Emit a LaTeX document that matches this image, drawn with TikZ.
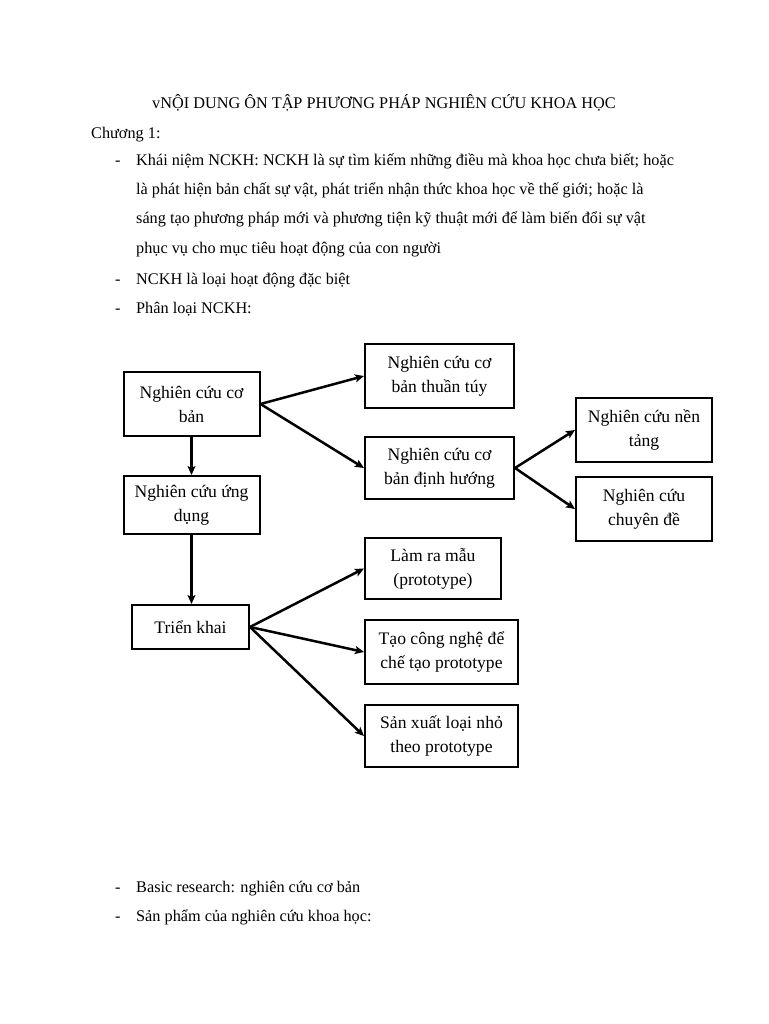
\documentclass[tikz,border=0pt]{standalone}
\usepackage{fontspec}
\setmainfont{Liberation Serif}
\usetikzlibrary{arrows.meta}
\begin{document}
\begin{tikzpicture}[x=1pt,y=-1pt,
  every node/.style={font=\fontsize{16.25}{24}\selectfont},
  box/.style={draw,line width=2pt,align=center,inner sep=0pt,font=\fontsize{17.6}{24}\selectfont},
  txt/.style={anchor=base west,inner sep=0pt},
  arr/.style={line width=2.5pt,-{Stealth[length=9pt,width=8pt,inset=2pt]}}]
\useasboundingbox[fill=white] (0,0) rectangle (768,1024);
% text
\node[anchor=base,inner sep=0pt] (title) at (384,109) {vNỘI DUNG ÔN TẬP PHƯƠNG PHÁP NGHIÊN CỨU KHOA HỌC};
\node[txt] (ch) at (91,139) {Chương 1:};
\foreach \y/\n in {166/d1,284/d2,313/d3,892/d4,921/d5}{
  \node[txt] (\n) at (115,\y) {-};}
\node[txt] (l1) at (136,166) {Khái niệm NCKH: NCKH là sự tìm kiếm những điều mà khoa học chưa biết; hoặc};
\node[txt] (l2) at (136,195) {là phát hiện bản chất sự vật, phát triển nhận thức khoa học về thế giới; hoặc là};
\node[txt] (l3) at (136,224) {sáng tạo phương pháp mới và phương tiện kỹ thuật mới để làm biến đổi sự vật};
\node[txt] (l4) at (136,253) {phục vụ cho mục tiêu hoạt động của con người};
\node[txt] (l5) at (136,284) {NCKH là loại hoạt động đặc biệt};
\node[txt] (l6) at (136,313) {Phân loại NCKH:};
\node[txt] (l7) at (136,892) {Basic research: nghiên cứu cơ bản};
\node[txt] (l8) at (136,921) {Sản phẩm của nghiên cứu khoa học:};
% boxes
\node[box,minimum width=136pt,minimum height=64pt] (A) at (191.5,404) {Nghiên cứu cơ\\bản};
\node[box,minimum width=149pt,minimum height=64pt] (B) at (439.5,376) {Nghiên cứu cơ\\bản thuần túy};
\node[box,minimum width=149pt,minimum height=62pt] (C) at (439.5,468) {Nghiên cứu cơ\\bản định hướng};
\node[box,minimum width=136pt,minimum height=58pt] (D) at (191.5,505) {Nghiên cứu ứng\\dụng};
\node[box,minimum width=136pt,minimum height=64pt] (E) at (644,430) {Nghiên cứu nền\\tảng};
\node[box,minimum width=136pt,minimum height=64pt] (F) at (644,509) {Nghiên cứu\\chuyên đề};
\node[box,minimum width=117pt,minimum height=44pt] (G) at (190.5,627) {Triển khai};
\node[box,minimum width=136pt,minimum height=61pt] (H) at (433,568.5) {Làm ra mẫu\\(prototype)};
\node[box,minimum width=153pt,minimum height=64pt] (I) at (441.5,652) {Tạo công nghệ để\\chế tạo prototype};
\node[box,minimum width=153pt,minimum height=62pt] (J) at (441.5,736) {Sản xuất loại nhỏ\\theo prototype};
% arrows
\draw[arr] (A.east) -- (B.west);
\draw[arr] (A.east) -- (C.west);
\draw[arr] (C.east) -- (E.west);
\draw[arr] (C.east) -- (F.west);
\draw[arr] (A.south) -- (D.north);
\draw[arr] (D.south) -- (D.south |- G.north);
\draw[arr] (G.east) -- (H.west);
\draw[arr] (G.east) -- (I.west);
\draw[arr] (G.east) -- (J.west);
\end{tikzpicture}
\end{document}
